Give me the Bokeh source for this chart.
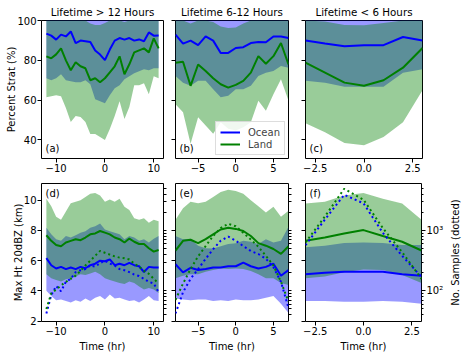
import math
from bokeh.plotting import figure
from bokeh.models import Range1d, LogScale, LogAxis, FixedTicker, Label, Legend, LegendItem
from bokeh.layouts import column, row
from bokeh.embed import file_html
from bokeh.resources import INLINE
from bokeh.core.properties import value

FONT = "DejaVu Sans"
BLUE = "#0000ff"
GREEN = "#008000"
MINUS = "\u2212"

# ---------------- data ----------------
time_long = list(range(-12, 12))
time_mid = list(range(-8, 8))
time_short = list(range(-3, 4))

titles = ["Lifetime > 12 Hours", "Lifetime 6-12 Hours", "Lifetime < 6 Hours"]
tags = ["(a)", "(b)", "(c)", "(d)", "(e)", "(f)"]
right_label = "No. Samples (dotted)"

# Percent stratiform (top row)
ocean_strat_a = [93.4, 92.4, 90.4, 92.9, 92.0, 94.5, 88.6, 89.9, 89.6, 89.2, 84.9, 82.9,
                 80.1, 85.4, 89.9, 91.2, 90.4, 91.2, 89.9, 90.5, 89.6, 94.0, 92.4, 92.5]
ocean_strat_lo_a = [71, 70, 71, 73, 70, 69.5, 69, 69, 70, 68, 60.5, 59.5,
                    58.5, 62.5, 66, 67.5, 70.5, 72, 73.5, 74.5, 75.5, 75, 76, 76]
ocean_strat_hi_a = [101] * 24
land_strat_a = [82, 81, 83, 86, 80, 75, 79, 77, 76, 70, 71, 69,
                71, 74, 77, 82, 73, 78, 84, 85, 86, 84, 91, 86]
land_strat_lo_a = [61.5, 62, 62.5, 62, 56, 49, 52, 51.5, 49, 43, 43, 41.5,
                   40, 45.5, 52, 59.5, 50.5, 56.5, 67.5, 67.5, 68.5, 63, 72, 71]
land_strat_hi_a = [100, 100, 100, 100, 100, 100, 100, 100, 100, 98.5, 97.8, 97.8,
                   98.8, 100, 100, 100, 99.2, 100, 100, 100, 100, 100, 100, 100]

ocean_strat_b = [92.9, 88.4, 89.9, 87.6, 92.0, 89.9, 83.7, 83.7, 86.2, 86.6, 88.7, 89.2,
                 89.1, 92.0, 92.0, 91.2]
ocean_strat_lo_b = [72.1, 68.8, 67.2, 69.7, 69.7, 65.5, 61.4, 62.2, 65.5, 65.5, 67.2, 72.1,
                    73.8, 74.6, 77.1, 76.3]
ocean_strat_hi_b = [101] * 16
land_strat_b = [78.8, 79.3, 67.2, 77.9, 74.6, 71.0, 68.0, 66.3, 67.7, 69.7, 73.8, 82.1,
                78.3, 82.1, 88.7, 77.9]
land_strat_lo_b = [58.0, 53.9, 38.1, 51.4, 47.3, 43.1, 48.9, 45.6, 44.8, 46.4, 48.9, 59.7,
                   54.7, 63.0, 70.5, 59.7]
land_strat_hi_b = [100, 100, 98.5, 100, 100, 99.3, 97, 96.2, 96.5, 98.5, 100, 100,
                   100, 100, 100, 100]

ocean_strat_c = [90.0, 88.5, 87.1, 87.6, 87.6, 91.7, 90.0]
ocean_strat_lo_c = [69.7, 68.8, 66.7, 66.7, 66.7, 73.8, 75.5]
ocean_strat_hi_c = [101] * 7
land_strat_c = [78.8, 73.8, 68.8, 67.2, 70.0, 76.3, 86.2]
land_strat_lo_c = [48.4, 43.9, 38.5, 37.3, 41.5, 48.9, 65.0]
land_strat_hi_c = [100, 99.5, 97.8, 97.6, 98.8, 100, 100]

# Max height of 20 dBZ (bottom row)
ocean_ht_d = [6.17, 5.7, 5.48, 5.59, 5.44, 5.55, 5.44, 5.59, 5.5, 5.7, 5.8, 6.0,
              5.96, 6.08, 5.7, 5.8, 5.7, 5.85, 5.7, 5.63, 5.25, 5.59, 5.55, 5.55]
ocean_ht_lo_d = [4.02, 3.66, 3.38, 3.44, 3.33, 3.23, 3.38, 3.29, 3.5, 3.33, 3.55, 3.66,
                 3.44, 3.76, 3.5, 3.55, 3.44, 3.33, 3.38, 3.23, 3.44, 3.66, 3.38, 3.33]
ocean_ht_hi_d = [8.17, 7.74, 7.42, 7.31, 7.63, 7.53, 7.68, 7.85, 7.95, 8.17, 8.28, 8.45,
                 8.06, 7.95, 7.85, 7.74, 7.42, 7.63, 7.53, 7.31, 7.42, 7.2, 7.45, 7.63]
land_ht_d = [7.68, 7.31, 7.03, 6.95, 7.2, 7.31, 7.42, 7.35, 7.53, 7.74, 7.8, 7.96,
             7.85, 7.74, 7.53, 7.42, 7.2, 7.46, 7.25, 7.1, 7.1, 6.82, 6.6, 6.7]
land_ht_lo_d = [5.1, 4.84, 4.73, 4.62, 4.78, 4.84, 4.95, 5.1, 5.05, 5.16, 5.27, 5.1,
                4.84, 4.73, 4.62, 4.52, 4.46, 4.62, 4.52, 4.3, 4.09, 4.2, 4.09, 3.87]
land_ht_hi_d = [10.1, 9.6, 8.9, 8.7, 9.25, 9.8, 9.9, 10.0, 10.2, 10.43, 10.47, 10.3,
                9.9, 10.04, 9.9, 10.1, 9.57, 9.35, 8.8, 8.7, 8.8, 8.5, 8.7, 8.6]
ocean_n_d = [42, 85, 120, 98, 141, 158, 204, 219, 229, 263, 251, 288,
             316, 282, 263, 229, 219, 204, 186, 176, 158, 141, 132, 95]
land_n_d = [50, 91, 105, 123, 141, 158, 178, 214, 263, 316, 380, 457,
            427, 398, 372, 355, 347, 331, 282, 251, 214, 191, 158, 132]

ocean_ht_e = [5.76, 5.23, 5.53, 5.38, 5.45, 5.55, 5.55, 5.63, 5.63, 5.87, 5.63, 5.48,
              5.59, 5.8, 5.0, 5.38]
ocean_ht_lo_e = [3.5, 3.44, 3.38, 3.44, 3.44, 3.33, 3.38, 3.33, 3.44, 3.38, 3.38, 3.44,
                 3.55, 3.66, 3.16, 2.54]
ocean_ht_hi_e = [7.63, 7.42, 7.45, 6.99, 6.82, 6.8, 6.95, 7.1, 7.15, 7.31, 7.25, 7.1,
                 7.42, 7.2, 7.31, 8.24]
land_ht_e = [6.67, 7.31, 7.38, 7.16, 7.42, 7.74, 8.06, 8.17, 8.1, 7.96, 7.63, 7.16,
             6.99, 6.77, 6.45, 6.95]
land_ht_lo_e = [4.84, 5.0, 5.1, 5.1, 5.27, 5.38, 5.48, 5.45, 5.48, 5.45, 5.31, 5.1,
                4.84, 4.84, 4.52, 4.4]
land_ht_hi_e = [8.7, 9.46, 9.9, 9.8, 9.9, 10.2, 10.54, 10.69, 10.6, 10.43, 10.0, 9.6,
                9.18, 9.57, 8.9, 9.3]
ocean_n_e = [42, 95, 158, 229, 339, 490, 676, 794, 676, 550, 457, 407, 339, 245, 141, 52]
land_n_e = [71, 132, 229, 372, 550, 813, 1096, 1288, 1175, 912, 708, 537, 380, 263, 141, 66]

ocean_ht_f = [5.1, 5.2, 5.27, 5.27, 5.27, 5.1, 5.0]
ocean_ht_lo_f = [3.33, 3.33, 3.29, 3.29, 3.33, 3.29, 3.16]
ocean_ht_hi_f = [6.88, 6.99, 7.16, 7.2, 7.16, 7.03, 7.03]
land_ht_f = [7.31, 7.53, 7.8, 8.02, 7.63, 7.25, 6.67]
land_ht_lo_f = [4.84, 4.95, 5.23, 5.42, 5.38, 5.05, 4.52]
land_ht_hi_f = [9.78, 9.9, 10.3, 10.47, 10.1, 9.78, 8.71]
ocean_n_f = [569, 1514, 3890, 2818, 912, 380, 170]
land_n_f = [631, 1698, 4898, 3236, 1096, 437, 158]

# tick values / labels
xticks_long = [-10, 0, 10]
xticks_mid = [-5, 0, 5]
xticks_short = [-2.5, 0.0, 2.5]
yticks_strat = [40, 60, 80, 100]
yticks_ht = [2, 4, 6, 8, 10]
nticks = [100, 1000]
nticks_minor = [40, 50, 60, 70, 80, 90, 200, 300, 400, 500, 600, 700, 800, 900,
                2000, 3000, 4000, 5000]


def labels_for(ticks, decimals):
    out = {}
    for t in ticks:
        s = ("%." + str(decimals) + "f") % t
        out[t] = s.replace("-", MINUS)
    return out


# ---------------- layout ----------------
# (border left, border right, width) for each column, per row
col_geom_top = [(41, 4, 167), (8, 5, 126), (12, 42, 171)]
col_geom_bot = [(41, 4, 167), (8, 5, 126), (12, 24, 153)]
label_strip_w = 18
row_geom = [(19, 20, 178), (5, 33, 176)]   # border top, border bottom, height
xr_list = [(-13, 12), (-8, 7), (-3, 3)]
yr_top = (30.7, 100)
yr_bot = (1.98, 11.1)
n_range = (31, 6000)


def style_axis(ax):
    ax.axis_line_color = None
    ax.major_tick_in = 0
    ax.major_tick_out = 4
    ax.major_tick_line_color = "black"
    ax.major_tick_line_width = 1
    ax.minor_tick_in = 0
    ax.minor_tick_out = 2
    ax.minor_tick_line_color = "black"
    ax.major_label_text_font = FONT
    ax.major_label_text_color = "black"
    ax.major_label_text_font_size = "10px"
    ax.major_label_standoff = 1
    ax.axis_label_text_font = FONT
    ax.axis_label_text_font_style = "normal"
    ax.axis_label_text_font_size = "10px"
    ax.axis_label_text_color = "black"


def make_fig(r, c):
    bl, br, w = (col_geom_top if r == 0 else col_geom_bot)[c]
    bt, bb, h = row_geom[r]
    yr = yr_top if r == 0 else yr_bot
    p = figure(width=w, height=h, x_range=Range1d(*xr_list[c]), y_range=Range1d(*yr),
               output_backend="svg", toolbar_location=None,
               min_border_left=bl, min_border_right=br, min_border_top=bt, min_border_bottom=bb)
    p.xgrid.visible = False
    p.ygrid.visible = False
    p.outline_line_color = "black"
    p.outline_line_width = 1
    p.outline_line_alpha = 1
    p.background_fill_color = "white"
    p.border_fill_color = "white"
    xt = [xticks_long, xticks_mid, xticks_short][c]
    xax = p.below[0]
    xax.ticker = FixedTicker(ticks=xt, minor_ticks=[])
    xax.major_label_overrides = labels_for(xt, 1 if c == 2 else 0)
    style_axis(xax)
    yt = yticks_strat if r == 0 else yticks_ht
    yax = p.left[0]
    style_axis(yax)
    if c == 0:
        yax.ticker = FixedTicker(ticks=yt, minor_ticks=[])
        yax.major_label_overrides = labels_for(yt, 0)
    else:
        # unlabelled shared axis: tick marks only
        yax.ticker = FixedTicker(ticks=[], minor_ticks=yt)
        yax.minor_tick_out = 4
    if r == 0:
        p.title.text = titles[c]
        p.title.align = "center"
        p.title.text_font = FONT
        p.title.text_font_size = "10.3px"
        p.title.text_font_style = "normal"
        p.title.text_color = "black"
        p.title.standoff = 6
        p.title.offset = 0
    return p


panels = {}
for r in range(2):
    for c in range(3):
        panels[(r, c)] = make_fig(r, c)

top_data = [
    (time_long, ocean_strat_a, ocean_strat_lo_a, ocean_strat_hi_a, land_strat_a, land_strat_lo_a, land_strat_hi_a),
    (time_mid, ocean_strat_b, ocean_strat_lo_b, ocean_strat_hi_b, land_strat_b, land_strat_lo_b, land_strat_hi_b),
    (time_short, ocean_strat_c, ocean_strat_lo_c, ocean_strat_hi_c, land_strat_c, land_strat_lo_c, land_strat_hi_c),
]
bot_data = [
    (time_long, ocean_ht_d, ocean_ht_lo_d, ocean_ht_hi_d, land_ht_d, land_ht_lo_d, land_ht_hi_d, ocean_n_d, land_n_d),
    (time_mid, ocean_ht_e, ocean_ht_lo_e, ocean_ht_hi_e, land_ht_e, land_ht_lo_e, land_ht_hi_e, ocean_n_e, land_n_e),
    (time_short, ocean_ht_f, ocean_ht_lo_f, ocean_ht_hi_f, land_ht_f, land_ht_lo_f, land_ht_hi_f, ocean_n_f, land_n_f),
]

legend_renderers = None
for c in range(3):
    p = panels[(0, c)]
    t, om, ol, oh, lm, ll, lh = top_data[c]
    p.varea(x=t, y1=ol, y2=oh, fill_color=BLUE, fill_alpha=0.4)
    p.varea(x=t, y1=ll, y2=lh, fill_color=GREEN, fill_alpha=0.4)
    ro = p.line(t, om, line_color=BLUE, line_width=2)
    rl = p.line(t, lm, line_color=GREEN, line_width=2)
    if c == 1:
        legend_renderers = (ro, rl)
    xs, xe = xr_list[c]
    p.add_layout(Label(x=xs, y=yr_top[0], x_offset=4, y_offset=5, text=tags[c],
                       text_align="left", text_baseline="bottom",
                       text_font=FONT, text_font_size="10px", text_color="black"))

pb = panels[(0, 1)]
leg = Legend(items=[LegendItem(label="Ocean", renderers=[legend_renderers[0]]),
                    LegendItem(label="Land", renderers=[legend_renderers[1]])],
             location="bottom_right")
leg.label_text_font = FONT
leg.label_text_font_size = "10px"
leg.glyph_width = 20
leg.glyph_height = 12
leg.label_standoff = 8
leg.label_height = 12
leg.spacing = 0
leg.padding = 4
leg.margin = 3
leg.border_line_color = "#bbbbbb"
leg.border_line_width = 1
leg.background_fill_alpha = 0.85
pb.add_layout(leg)

for c in range(3):
    p = panels[(1, c)]
    t, om, ol, oh, lm, ll, lh, on, ln = bot_data[c]
    p.extra_y_ranges = {"n": Range1d(*n_range)}
    p.extra_y_scales = {"n": LogScale()}
    p.varea(x=t, y1=ol, y2=oh, fill_color=BLUE, fill_alpha=0.4)
    p.varea(x=t, y1=ll, y2=lh, fill_color=GREEN, fill_alpha=0.4)
    p.line(t, om, line_color=BLUE, line_width=2)
    p.line(t, lm, line_color=GREEN, line_width=2)
    p.line(t, on, line_color=BLUE, line_width=2, line_dash="2 3", y_range_name="n")
    p.line(t, ln, line_color=GREEN, line_width=2, line_dash="2 3", y_range_name="n")
    rax = LogAxis(y_range_name="n")
    style_axis(rax)
    if c == 2:
        rax.ticker = FixedTicker(ticks=nticks, minor_ticks=nticks_minor)
        rax.major_label_overrides = {100: "10\u00b2", 1000: "10\u00b3"}
    else:
        rax.ticker = FixedTicker(ticks=[], minor_ticks=nticks + nticks_minor)
        rax.minor_tick_out = 3
    p.add_layout(rax, "right")
    p.below[0].axis_label = "Time (hr)"
    p.below[0].axis_label_standoff = 3
    xs, xe = xr_list[c]
    p.add_layout(Label(x=xs, y=yr_bot[1], x_offset=4, y_offset=-4, text=tags[3 + c],
                       text_align="left", text_baseline="top",
                       text_font=FONT, text_font_size="10px", text_color="black"))

panels[(0, 0)].left[0].axis_label = "Percent Strat (%)"
panels[(0, 0)].left[0].axis_label_standoff = -3
panels[(1, 0)].left[0].axis_label = "Max Ht 20dBZ (km)"
panels[(1, 0)].left[0].axis_label_standoff = -3

# strip holding the right-hand axis title (reads bottom-to-top as in the original)
bt, bb, h = row_geom[1]
strip = figure(width=label_strip_w, height=h, x_range=Range1d(0, 1), y_range=Range1d(0, 1),
               output_backend="svg", toolbar_location=None,
               min_border_left=0, min_border_right=0, min_border_top=bt, min_border_bottom=bb)
strip.axis.visible = False
strip.grid.visible = False
strip.outline_line_color = None
strip.background_fill_color = "white"
strip.border_fill_color = "white"
strip.text(x=[0.5], y=[0.5], text=[right_label], angle=math.pi / 2,
           text_align="center", text_baseline="middle",
           text_font=value(FONT), text_font_size="10px", text_color="black")

layout = column(row(panels[(0, 0)], panels[(0, 1)], panels[(0, 2)]),
                row(panels[(1, 0)], panels[(1, 1)], panels[(1, 2)], strip))

open("out.html", "w").write(file_html(layout, INLINE))
